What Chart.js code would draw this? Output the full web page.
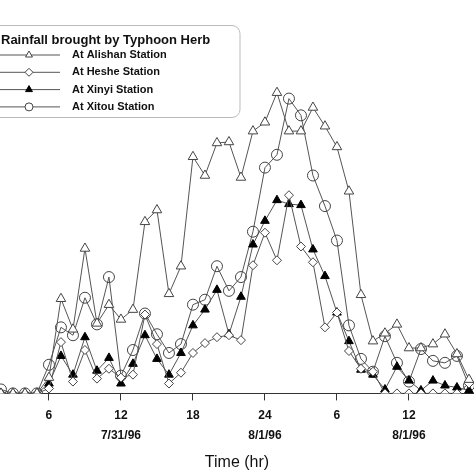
<!DOCTYPE html>
<html><head><meta charset="utf-8">
<script src="https://cdn.jsdelivr.net/npm/chart.js@4"></script>
<style>html,body{margin:0;padding:0;background:#fff}#w{width:474px;height:474px}</style>
</head><body><div id="w"><canvas id="c"></canvas></div>
<script>
const hours = [];
for (let h = 2; h <= 41; h++) hours.push(h);
const alishan = [0,0,0,0,16,96,65,147,71,90,75,85,174,186,101,129,240,221,254,255,219,266,275,305,266,266,290,271,250,205,100,53,61,70,46,46,50,60,40,14];
const heshe  = [0,0,0,0,5,52,12,44,15,25,16,19,80,50,10,21,41,51,57,59,54,130,163,135,201,149,133,67,82,43,25,22,0,0,0,0,0,0,0,10];
const xinyi  = [0,0,0,0,10,38,19,57,23,36,10,30,59,35,19,41,69,85,105,60,98,151,175,196,192,191,146,119,82,53,24,19,4,27,13,3,13,8,6,3];
const xitou  = [4,0,0,0,29,67,59,97,70,118,18,44,81,60,41,50,90,95,129,104,118,164,229,242,299,282,221,190,155,69,35,22,58,31,12,45,33,31,38,8];
const tickHours = [6,12,18,24,30,36];
const tickLabels = [['6'],['12','7/31/96'],['18'],['24','8/1/96'],['6'],['12','8/1/96']];
const legendTitle = 'Rainfall brought by Typhoon Herb';
const names = ['At Alishan Station','At Heshe Station','At Xinyi Station','At Xitou Station'];

const mk = (arr) => arr.map((v,i)=>({x:hours[i], y:v}));
const base = {borderColor:'#555', borderWidth:1, pointRadius:4.5, pointBorderWidth:1, pointBorderColor:'#444', tension:0};
const datasets = [
  {...base, label:names[0], data:mk(alishan), pointStyle:'triangle', pointBackgroundColor:'#fff', pointRadius:5.5},
  {...base, label:names[1], data:mk(heshe), pointStyle:'rectRot', pointBackgroundColor:'#fff', pointRadius:4.5},
  {...base, label:names[2], data:mk(xinyi), pointStyle:'triangle', pointBackgroundColor:'#000', pointBorderColor:'#000', pointRadius:5},
  {...base, label:names[3], data:mk(xitou), pointStyle:'circle', pointBackgroundColor:'rgba(255,255,255,0)', pointRadius:5.5}
];

const legendPlugin = {
  id:'customLegend',
  afterDraw(chart){
    const ctx = chart.ctx;
    ctx.save();
    ctx.strokeStyle = '#bbb'; ctx.lineWidth = 1; ctx.fillStyle='#fff';
    ctx.beginPath(); ctx.roundRect(-10, 25.5, 250, 92, 8); ctx.fill(); ctx.stroke();
    ctx.fillStyle = '#111'; ctx.font = 'bold 13px "Liberation Sans", Arial, sans-serif';
    ctx.textBaseline = 'middle';
    ctx.fillText(legendTitle, 1, 40);
    ctx.font = 'bold 11px "Liberation Sans", Arial, sans-serif';
    datasets.forEach((d,i)=>{
      const y = 55 + i*17.3;
      ctx.strokeStyle = '#555'; ctx.lineWidth = 1;
      ctx.beginPath(); ctx.moveTo(0,y); ctx.lineTo(60,y); ctx.stroke();
      ctx.fillStyle = d.pointStyle==='circle' ? '#fff' : d.pointBackgroundColor;
      ctx.strokeStyle = d.pointBorderColor;
      Chart.helpers.drawPoint(ctx, {pointStyle:d.pointStyle, radius:4, borderWidth:1}, 29, y);
      ctx.fillStyle = '#111';
      ctx.fillText(d.label, 72, y);
    });
    ctx.restore();
  }
};

new Chart(document.getElementById('c'), {
  type:'line',
  data:{datasets},
  options:{
    responsive:true, maintainAspectRatio:false, animation:false,
    layout:{autoPadding:false, padding:{left:0,right:0,top:0,bottom:2}},
    plugins:{legend:{display:false}, tooltip:{enabled:false}},
    scales:{
      x:{type:'linear', min:1.92, max:41.42,
        afterBuildTicks(ax){ ax.ticks = tickHours.map(v=>({value:v})); },
        ticks:{autoSkip:false, maxRotation:0, color:'#111', padding:6,
          font:{family:'"Liberation Sans", Arial, sans-serif', weight:'bold', size:12, lineHeight:1.6},
          callback:(v)=>{const i=tickHours.indexOf(v); return i>=0?tickLabels[i]:'';}},
        grid:{drawOnChartArea:false, tickLength:7, color:'#333'},
        border:{color:'#333', width:1},
        title:{display:true, text:'Time (hr)', color:'#111', padding:{top:2,bottom:0},
          font:{family:'"Liberation Sans", Arial, sans-serif', size:16}}
      },
      y:{display:false, min:0, max:399}
    }
  },
  plugins:[legendPlugin]
});
</script></body></html>
